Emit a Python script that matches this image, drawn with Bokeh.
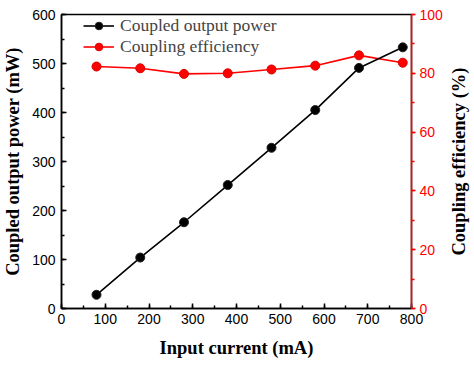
import math
from bokeh.plotting import figure
from bokeh.layouts import row
from bokeh.models import Range1d, LinearAxis, SingleIntervalTicker, Legend, LegendItem
from bokeh.core.properties import value
from bokeh.embed import file_html
from bokeh.resources import INLINE

current = [80, 180, 280, 380, 480, 580, 680, 780]
power = [28, 104, 176, 252, 328, 405, 491, 533]
efficiency = [82.3, 81.7, 79.8, 80.0, 81.3, 82.6, 86.1, 83.6]
right_title = "Coupling efficiency (%)"

RED = "#ff0000"

p = figure(frame_width=350, frame_height=294, output_backend="svg", toolbar_location=None,
           x_range=Range1d(0, 800), y_range=Range1d(0, 600),
           min_border_left=55, min_border_right=32, min_border_top=14, min_border_bottom=50)
p.extra_y_ranges = {"eff": Range1d(0, 100)}
p.grid.visible = False
p.outline_line_color = "black"
p.outline_line_width = 1.5
p.background_fill_color = "white"

l2 = p.line(current, efficiency, line_color=RED, line_width=1.6, y_range_name="eff")
c2 = p.scatter(current, efficiency, size=9, fill_color=RED, line_color="#dd0000", y_range_name="eff")
l1 = p.line(current, power, line_color="black", line_width=1.6)
c1 = p.scatter(current, power, size=9, fill_color="black", line_color="#222222")

def style(ax, color="black", tick_in=5, tick_out=0):
    ax.axis_line_color = color
    ax.axis_line_width = 1.5
    ax.major_tick_line_color = color
    ax.minor_tick_line_color = color
    ax.major_tick_line_width = 1.5
    ax.minor_tick_line_width = 1.5
    ax.major_tick_in = tick_in
    ax.major_tick_out = tick_out
    ax.minor_tick_in = 3 if tick_in else 0
    ax.minor_tick_out = 3 if tick_out else 0
    ax.major_label_text_font = "Liberation Sans"
    ax.major_label_text_font_size = "14px"
    ax.major_label_text_color = color
    ax.axis_label_text_font = "Liberation Serif"
    ax.axis_label_text_font_style = "bold"
    ax.axis_label_text_font_size = "18.5px"
    ax.axis_label_text_color = "black"

xa = p.xaxis[0]
xa.ticker = SingleIntervalTicker(interval=100, num_minor_ticks=2)
xa.axis_label = "Input current (mA)"
style(xa)
xa.major_label_standoff = 5
xa.axis_label_standoff = 11

ya = p.yaxis[0]
ya.ticker = SingleIntervalTicker(interval=100, num_minor_ticks=2)
ya.axis_label = "Coupled output power (mW)"
style(ya)
ya.major_label_standoff = 6
ya.axis_label_standoff = 6

ra = LinearAxis(y_range_name="eff")
ra.ticker = SingleIntervalTicker(interval=20, num_minor_ticks=2)
style(ra, color=RED, tick_in=0, tick_out=4)
ra.major_label_standoff = 4
p.add_layout(ra, "right")

legend = Legend(items=[LegendItem(label="Coupled output power", renderers=[l1, c1]),
                       LegendItem(label="Coupling efficiency", renderers=[l2, c2])],
                location=(22, 251), padding=0, margin=0, spacing=0,
                glyph_width=31, glyph_height=19, label_standoff=6,
                label_text_font="Liberation Serif", label_text_font_size="17.5px",
                border_line_color=None, background_fill_alpha=0)
p.add_layout(legend)

# narrow strip holding the right-hand title, reading bottom-to-top
s = figure(frame_width=26, frame_height=294, output_backend="svg", toolbar_location=None,
           x_range=Range1d(-1, 1), y_range=Range1d(-1, 1),
           min_border_left=0, min_border_right=0, min_border_top=14, min_border_bottom=50)
s.axis.visible = False
s.grid.visible = False
s.outline_line_color = None
s.text(x=[0], y=[0], text=[right_title], angle=math.pi / 2,
       text_align="center", text_baseline="middle",
       text_font=value("Liberation Serif"), text_font_style="bold",
       text_font_size="18.5px", text_color="black")

layout = row(p, s, spacing=0)

open("out.html", "w").write(file_html(layout, INLINE))
